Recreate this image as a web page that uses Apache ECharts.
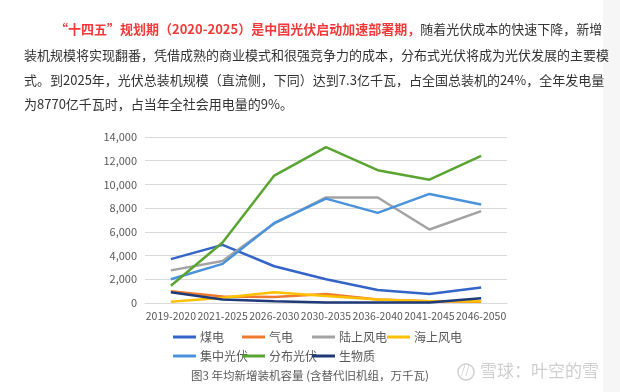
<!DOCTYPE html>
<html><head><meta charset="utf-8">
<script src="https://cdn.jsdelivr.net/npm/echarts@6/dist/echarts.min.js"></script>
<style>html,body{margin:0;padding:0;background:#fff}#c{width:620px;height:392px}</style>
</head><body><div id="c"></div>
<script>
const categories = ['2019-2020','2021-2025','2026-2030','2030-2035','2036-2040','2041-2045','2046-2050'];
const coal      = [3700, 4900, 3100, 2000, 1100, 750, 1300];   // 煤电
const gas       = [1000, 550, 500, 750, 300, 150, 100];        // 气电
const windLand  = [2750, 3550, 6700, 8900, 8900, 6200, 7750];  // 陆上风电
const windSea   = [100, 450, 900, 600, 300, 150, 150];         // 海上风电
const pvCentral = [2000, 3300, 6750, 8800, 7600, 9200, 8300];  // 集中光伏
const pvDist    = [1450, 5100, 10750, 13150, 11200, 10400, 12400]; // 分布光伏
const biomass   = [900, 300, 150, 50, 50, 50, 400];            // 生物质
const yTicks = [0, 2000, 4000, 6000, 8000, 10000, 12000, 14000];

const names = ['煤电','气电','陆上风电','海上风电','集中光伏','分布光伏','生物质'];
const colors = ['#3364c8','#ee7a30','#a3a3a3','#ffc000','#4a92dc','#5aa532','#1f3a78'];
const dataSets = [coal, gas, windLand, windSea, pvCentral, pvDist, biomass];

const FONT = '"Noto Sans CJK SC","Noto Sans",sans-serif';
const legendPos = [[173,331],[242,331],[312,331],[387,331],[173,350],[242,350],[312,350]];

const chart = echarts.init(document.getElementById('c'), null, {renderer:'canvas'});
chart.setOption({
  backgroundColor: '#fff',
  animation: false,
  textStyle: {fontFamily: FONT},
  grid: {left: 145, top: 137, width: 362, height: 166, containLabel: false},
  xAxis: {
    type: 'category', data: categories, boundaryGap: true,
    axisLine: {lineStyle: {color: '#d9d9d9'}},
    axisTick: {show: false},
    axisLabel: {interval: 0, fontSize: 10.5, color: '#595959', margin: 8, fontFamily: FONT}
  },
  yAxis: {
    type: 'value', min: yTicks[0], max: yTicks[yTicks.length-1], interval: 2000,
    axisLine: {show: false}, axisTick: {show: false},
    splitLine: {lineStyle: {color: '#d9d9d9', width: 1}},
    axisLabel: {fontSize: 11, color: '#595959', margin: 8, fontFamily: FONT}
  },
  legend: names.map((n, i) => ({
    data: [n], left: legendPos[i][0], top: legendPos[i][1], padding: 0,
    icon: 'rect', itemWidth: 23, itemHeight: 3, itemGap: 0,
    textStyle: {fontSize: 12, color: '#595959', padding: [0,0,0,-1], fontFamily: FONT}
  })),
  series: names.map((n, i) => ({
    name: n, type: 'line', data: dataSets[i], symbol: 'none',
    lineStyle: {width: 2.5, color: colors[i]}, itemStyle: {color: colors[i]},
    z: 2 + i
  })),
  graphic: [
    {type: 'rect', shape: {x: 603, y: 0, width: 17, height: 392}, style: {fill: '#f6f6f6'}, silent: true},
    {type: 'text', left: 55, top: 23, style: {
      text: '{r|“十四五”规划期（2020-2025）是中国光伏启动加速部署期，}{n|随着光伏成本的快速下降，新增}',
      rich: {
        r: {fill: '#f23a3a', fontWeight: 'bold', fontSize: 13, fontFamily: FONT},
        n: {fill: '#333', fontSize: 13, fontFamily: FONT}
      }}},
    {type: 'text', left: 24, top: 49, style: {text: '装机规模将实现翻番，凭借成熟的商业模式和很强竞争力的成本，分布式光伏将成为光伏发展的主要模', fill: '#333', fontSize: 13, fontFamily: FONT}},
    {type: 'text', left: 24, top: 74, style: {text: '式。到2025年，光伏总装机规模（直流侧，下同）达到7.3亿千瓦，占全国总装机的24%，全年发电量', fill: '#333', fontSize: 13, fontFamily: FONT}},
    {type: 'text', left: 24, top: 98, style: {text: '为8770亿千瓦时，占当年全社会用电量的9%。', fill: '#333', fontSize: 13, fontFamily: FONT}},
    {type: 'text', left: 'center', top: 370, style: {text: '图3 年均新增装机容量 (含替代旧机组，万千瓦)', fill: '#595959', fontSize: 11.5, fontFamily: FONT}},
    {type: 'circle', shape: {cx: 466, cy: 372, r: 8}, style: {fill: 'none', stroke: '#cfcfcf', lineWidth: 1.5}},
    {type: 'text', left: 461, top: 364, style: {text: '//', fill: '#cfcfcf', fontSize: 11, fontFamily: FONT}},
    {type: 'text', left: 480, top: 362, style: {text: '雪球：叶空的雪', fill: '#cfcfcf', fontSize: 17, fontFamily: FONT}}
  ]
});
</script></body></html>
